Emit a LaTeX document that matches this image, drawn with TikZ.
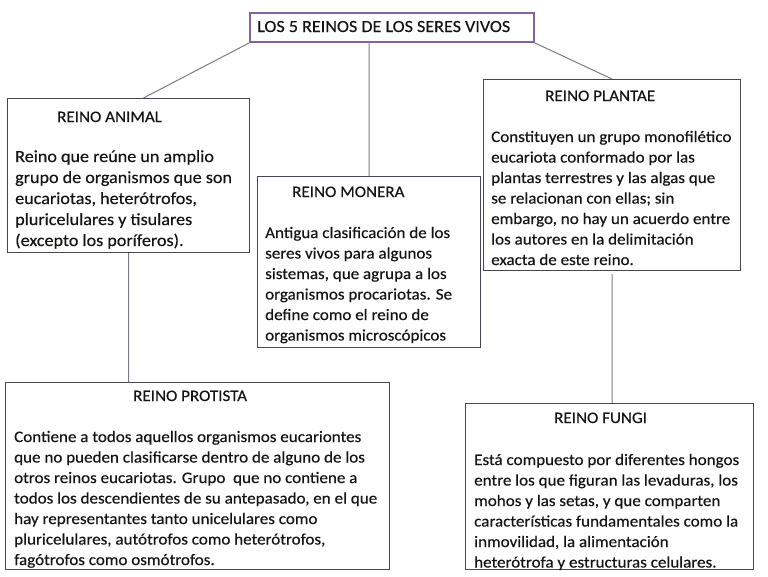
\documentclass[tikz,border=0pt]{standalone}
\usepackage{fontspec}
\setmainfont{Carlito}[FakeStretch=1.065, FakeBold=0.4]
\usepackage{tikz}
\usetikzlibrary{calc}

\definecolor{titlepurple}{RGB}{128,100,162}
\definecolor{linkgray}{RGB}{125,122,135}
\definecolor{boxgray}{RGB}{70,70,80}

\begin{document}
\begin{tikzpicture}[x=1pt,
            y=-1pt,
            font=\fontsize{16}{20.5}\selectfont,
            text=black!92,
            reino/.style={draw=boxgray, line width=1pt, anchor=north west, inner sep=0pt},
            cabecera/.style={anchor=base west, inner sep=0pt},
            texto/.style={anchor=base west, inner sep=0pt, align=left},
            enlace/.style={draw=linkgray, line width=1pt}]

        \useasboundingbox (0,0) rectangle (768,576);

        % cajas
        \node[reino, draw=titlepurple, line width=2pt,
              minimum width=284pt, minimum height=29pt] (titulo)   at (249,12)  {};
        \node[reino, minimum width=242pt, minimum height=154pt] (animal)   at (7,98)    {};
        \node[reino, minimum width=223pt, minimum height=171pt] (monera)   at (257,176) {};
        \node[reino, minimum width=257pt, minimum height=191pt] (plantae)  at (483,79)  {};
        \node[reino, minimum width=384pt, minimum height=187pt] (protista) at (5,382)   {};
        \node[reino, minimum width=288pt, minimum height=166pt] (fungi)    at (465,403) {};

        % titulos
        \node[cabecera, font=\fontsize{17}{20}\selectfont] (titulotxt)
                                      at ($(titulo.north west)+(8,20)$)    {LOS 5 REINOS DE LOS SERES VIVOS};
        \node[cabecera] (animaltit)   at ($(animal.north west)+(50,24)$)   {REINO ANIMAL};
        \node[cabecera] (moneratit)   at ($(monera.north west)+(35,21)$)   {REINO MONERA};
        \node[cabecera] (plantaetit)  at ($(plantae.north west)+(62,22)$)  {REINO PLANTAE};
        \node[cabecera] (protistatit) at ($(protista.north west)+(128,19)$) {REINO PROTISTA};
        \node[cabecera] (fungitit)    at ($(fungi.north west)+(89,20)$)    {REINO FUNGI};

        % textos (anclados en la linea base de la ultima linea)
        \node[texto, font=\fontsize{17}{21}\selectfont] (animaltxt) at ($(animal.north west)+(8,148)$)
            {Reino que reúne un amplio\\
             grupo de organismos que son\\
             eucariotas, heterótrofos,\\
             pluricelulares y tisulares\\
             (excepto los poríferos).};
        \node[texto] (moneratxt) at ($(monera.north west)+(8,164.5)$)
            {Antigua clasificación de los\\
             seres vivos para algunos\\
             sistemas, que agrupa a los\\
             organismos procariotas. Se\\
             define como el reino de\\
             organismos microscópicos};
        \node[texto] (plantaetxt) at ($(plantae.north west)+(8,186)$)
            {Constituyen un grupo monofilético\\
             eucariota conformado por las\\
             plantas terrestres y las algas que\\
             se relacionan con ellas; sin\\
             embargo, no hay un acuerdo entre\\
             los autores en la delimitación\\
             exacta de este reino.};
        \node[texto] (protistatxt) at ($(protista.north west)+(9,183)$)
            {Contiene a todos aquellos organismos eucariontes\\
             que no pueden clasificarse dentro de alguno de los\\
             otros reinos eucariotas. Grupo\ \ que no contiene a\\
             todos los descendientes de su antepasado, en el que\\
             hay representantes tanto unicelulares como\\
             pluricelulares, autótrofos como heterótrofos,\\
             fagótrofos como osmótrofos.};
        \node[texto] (fungitxt) at ($(fungi.north west)+(9,164.5)$)
            {Está compuesto por diferentes hongos\\
             entre los que figuran las levaduras, los\\
             mohos y las setas, y que comparten\\
             características fundamentales como la\\
             inmovilidad, la alimentación\\
             heterótrofa y estructuras celulares.};

        % enlaces
        \draw[enlace] (titulo.south west) -- ($(animal.north)+(15,0)$)
                      (titulo.south east) -- (plantae.north)
                      (monera.north |- titulo.south) -- (monera.north)
                      (animal.south) -- (animal.south |- protista.north)
                      ($(plantae.south)+(0,3)$) -- (plantae.south |- fungi.north);

    \end{tikzpicture}
\end{document}
